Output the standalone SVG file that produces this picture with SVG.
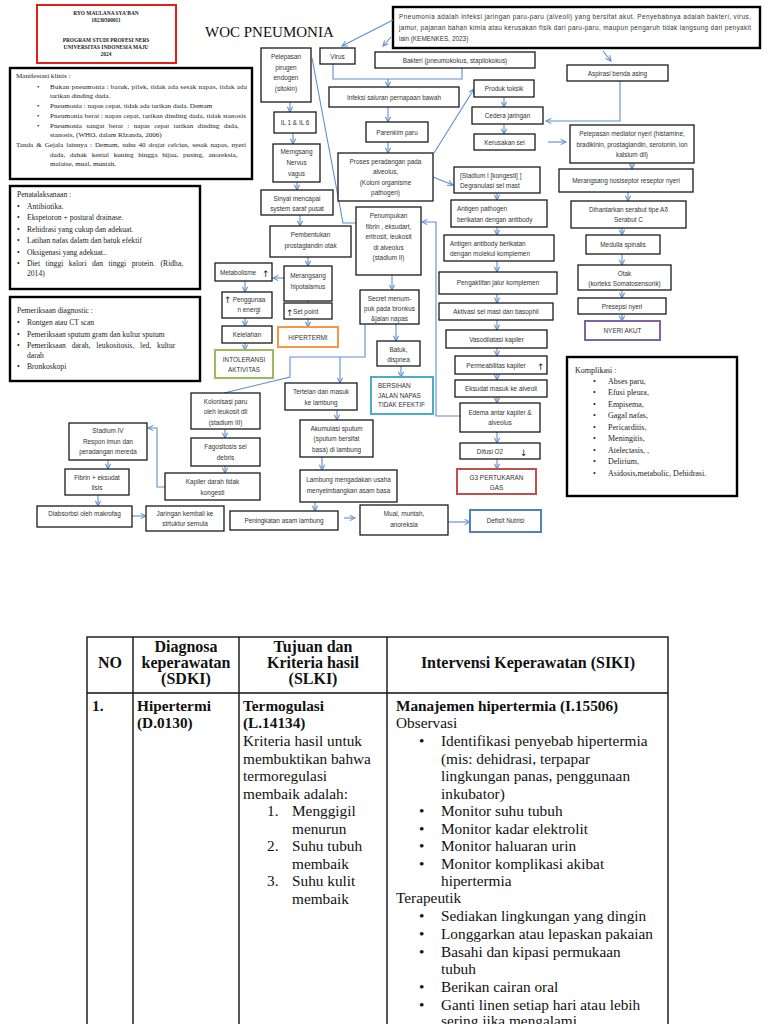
<svg xmlns="http://www.w3.org/2000/svg" width="768" height="1024" viewBox="0 0 768 1024">
<style>
.bx{fill:#fff;stroke:#1a1a1a;stroke-width:1.3}
.tk{fill:#fff;stroke:#000;stroke-width:2.4}
.f{font-family:"Liberation Sans",Arial,sans-serif;font-size:6.4px;fill:#333;text-anchor:middle}
.fl{font-family:"Liberation Sans",Arial,sans-serif;font-size:6.4px;fill:#333}
.up{font-family:"DejaVu Sans",sans-serif;font-size:9px;fill:#222}
.s7{font-family:"Liberation Serif","Times New Roman",serif;font-size:7.1px;fill:#222}
.s8{font-family:"Liberation Serif","Times New Roman",serif;font-size:7.6px;fill:#222}
.tb{font-family:"Liberation Serif","Times New Roman",serif;font-size:15.3px;fill:#111}
.th{font-family:"Liberation Serif","Times New Roman",serif;font-size:16px;font-weight:bold;fill:#111;text-anchor:middle}
.b{font-weight:bold}
.cn{fill:none;stroke:#5b8fd0;stroke-width:1.1}
.ar{marker-end:url(#ah)}
</style>
<defs>
<marker id="ah" viewBox="0 0 8 8" refX="7" refY="4" markerWidth="7" markerHeight="7" markerUnits="userSpaceOnUse" orient="auto">
<path d="M1,1 L7,4 L1,7" fill="none" stroke="#5b8fd0" stroke-width="1.2"/>
</marker>
</defs>
<rect width="768" height="1024" fill="#fff"/>

<g id="header">
<rect x="37" y="5" width="139" height="58" fill="#fff" stroke="#e0201f" stroke-width="2"/>
<g font-family="Liberation Serif, Times New Roman, serif" font-size="5.4" font-weight="bold" fill="#222" text-anchor="middle">
<text x="106" y="15">RYO MAULANA SYA'BAN</text>
<text x="106" y="22">18230500011</text>
<text x="106" y="42">PROGRAM STUDI PROFESI NERS</text>
<text x="106" y="49">UNIVERSITAS INDONESIA MAJU</text>
<text x="106" y="56">2024</text>
</g>
</g>
<text id="title" x="205" y="37" font-family="Liberation Serif, Times New Roman, serif" font-size="15" fill="#111">WOC PNEUMONIA</text>

<g id="definisi">
<rect class="tk" x="393" y="7" width="367" height="41"/>
<text class="fl" x="399" y="19" textLength="352">Pneumonia adalah infeksi jaringan paru-paru (alveoli) yang bersifat akut. Penyebabnya adalah bakteri, virus,</text>
<text class="fl" x="399" y="30" textLength="352">jamur, pajanan bahan kimia atau kerusakan fisik dari paru-paru, maupun pengaruh tidak langsung dari penyakit</text>
<text class="fl" x="399" y="41">lain (KEMENKES, 2023)</text>
</g>

<g id="manifestasi">
<rect class="tk" x="10" y="68" width="242" height="111"/>
<text class="s7" x="16" y="78">Manifestasi klinis :</text>
<text class="s7" x="37" y="89">•</text><text class="s7" x="50" y="89" textLength="197">Bukan pneumonia : batuk, pilek, tidak ada sesak napas, tidak ada</text>
<text class="s7" x="50" y="98">tarikan dinding dada.</text>
<text class="s7" x="37" y="108">•</text><text class="s7" x="50" y="108">Pneumonia : napas cepat, tidak ada tarikan dada. Demam</text>
<text class="s7" x="37" y="118">•</text><text class="s7" x="50" y="118" textLength="196">Pneumonia berat : napas cepat, tarikan dinding dada, tidak stanosis</text>
<text class="s7" x="37" y="128">•</text><text class="s7" x="50" y="128" word-spacing="2.6">Pneumonia sangat berat : napas cepat tarikan dinding dada,</text>
<text class="s7" x="50" y="137">stanosis, (WHO, dalam RIzanda, 2006)</text>
<text class="s7" x="16" y="147" word-spacing="1.2">Tanda &amp; Gejala lainnya : Demam, suhu 40 drajat celcius, sesak napas, nyeri</text>
<text class="s7" x="50" y="157" word-spacing="3">dada, dahak kental kuning hingga hijau, pusing, anoreksia,</text>
<text class="s7" x="50" y="166">malaise, mual, muntah.</text>
</g>

<g id="penatalaksanaan">
<rect class="tk" x="10" y="186" width="190" height="103"/>
<text class="s8" x="17" y="197">Penatalaksanaan :</text>
<text class="s8" x="17" y="209">•</text><text class="s8" x="27" y="209">Antibiotika.</text>
<text class="s8" x="17" y="220">•</text><text class="s8" x="27" y="220">Ekspetoron + postural drainase.</text>
<text class="s8" x="17" y="232">•</text><text class="s8" x="27" y="232">Rehidrasi yang cukup dan adekuat.</text>
<text class="s8" x="17" y="243">•</text><text class="s8" x="27" y="243">Latihan nafas dalam dan batuk efektif</text>
<text class="s8" x="17" y="255">•</text><text class="s8" x="27" y="255">Oksigenasi yang adekuat..</text>
<text class="s8" x="17" y="266">•</text><text class="s8" x="27" y="266" word-spacing="3.6">Diet tinggi kalori dan tinggi protein. (Ridha,</text>
<text class="s8" x="27" y="276">2014)</text>
</g>

<g id="pemeriksaan">
<rect class="tk" x="10" y="297" width="190" height="84"/>
<text class="s8" x="17" y="313">Pemeriksaan diagnostic :</text>
<text class="s8" x="17" y="325">•</text><text class="s8" x="27" y="325">Rontgen atau CT scan</text>
<text class="s8" x="17" y="337">•</text><text class="s8" x="27" y="337">Pemeriksaan sputum gram dan kultur sputum</text>
<text class="s8" x="17" y="348">•</text><text class="s8" x="27" y="348" word-spacing="4">Pemeriksaan darah,  leukositosis, led, kultur</text>
<text class="s8" x="27" y="358">darah</text>
<text class="s8" x="17" y="369">•</text><text class="s8" x="27" y="369">Bronkoskopi</text>
</g>

<g id="komplikasi">
<rect class="tk" x="567" y="357" width="170" height="139"/>
<g font-family="Liberation Serif, Times New Roman, serif" font-size="8" fill="#222">
<text x="575" y="373">Komplikasi  :</text>
<text x="593" y="384">•</text><text x="608" y="384">Abses paru,</text>
<text x="593" y="395">•</text><text x="608" y="395">Efusi pleura,</text>
<text x="593" y="407">•</text><text x="608" y="407">Empisema,</text>
<text x="593" y="418">•</text><text x="608" y="418">Gagal nafas,</text>
<text x="593" y="430">•</text><text x="608" y="430">Pericarditis,</text>
<text x="593" y="441">•</text><text x="608" y="441">Meningitis,</text>
<text x="593" y="453">•</text><text x="608" y="453">Atelectasis, ,</text>
<text x="593" y="464">•</text><text x="608" y="464">Delirium,</text>
<text x="593" y="476">•</text><text x="608" y="476">Asidosis,metabolic, Dehidrasi.</text>
</g>
</g>

<g id="connectors">
<path class="cn ar" d="M393,20 L342,46"/>
<path class="cn ar" d="M391,37 L383,46"/>
<path class="cn ar" d="M603,51 L611,61"/>
<path class="cn" d="M333,64 V79 H462 V68"/>
<path class="cn ar" d="M388,79 V87"/>
<path class="cn ar" d="M388,107 V122"/>
<path class="cn ar" d="M388,142 V153"/>
<path class="cn ar" d="M434,153 L474,89"/>
<path class="cn ar" d="M504,97 V107"/>
<path class="cn ar" d="M504,124 V134"/>
<path class="cn ar" d="M548,142 H566"/>
<path class="cn ar" d="M620,81 V121 H546"/>
<path class="cn ar" d="M632,163 V169"/>
<path class="cn ar" d="M628,192 V201"/>
<path class="cn ar" d="M622,228 V235"/>
<path class="cn ar" d="M622,254 V265"/>
<path class="cn ar" d="M622,290 V298"/>
<path class="cn ar" d="M622,314 V321"/>
<path class="cn ar" d="M433,177 L453,185"/>
<path class="cn ar" d="M497,193 V200"/>
<path class="cn ar" d="M497,227 V235"/>
<path class="cn ar" d="M497,261 V272"/>
<path class="cn ar" d="M497,294 V303"/>
<path class="cn ar" d="M497,320 V330"/>
<path class="cn ar" d="M497,348 V356"/>
<path class="cn ar" d="M497,374 V380"/>
<path class="cn ar" d="M497,397 V403"/>
<path class="cn ar" d="M497,432 V443"/>
<path class="cn ar" d="M497,459 V469"/>
<path class="cn ar" d="M460,416 H436 V222 H422"/>
<path class="cn" d="M312,58 L343,223 H356"/>
<path class="cn ar" d="M290,102 V112"/>
<path class="cn ar" d="M293,133 V144"/>
<path class="cn ar" d="M297,182 V190"/>
<path class="cn ar" d="M300,215 V226"/>
<path class="cn ar" d="M308,257 V266"/>
<path class="cn ar" d="M284,278 H273"/>
<path class="cn ar" d="M308,295 V302"/>
<path class="cn ar" d="M308,319 V327"/>
<path class="cn ar" d="M245,281 V292"/>
<path class="cn ar" d="M245,318 V326"/>
<path class="cn ar" d="M245,343 V350"/>
<path class="cn ar" d="M392,275 V290"/>
<path class="cn ar" d="M396,324 V341"/>
<path class="cn ar" d="M401,366 V377"/>
<path class="cn" d="M365,324 V357 H290 V377 L224,393"/>
<path class="cn ar" d="M340,357 V383"/>
<path class="cn ar" d="M225,429 V438"/>
<path class="cn ar" d="M225,466 V473"/>
<path class="cn ar" d="M165,487 H157 V428 H148"/>
<path class="cn ar" d="M108,460 V469"/>
<path class="cn ar" d="M98,495 V506"/>
<path class="cn ar" d="M132,516 H146"/>
<path class="cn ar" d="M337,410 V420"/>
<path class="cn ar" d="M322,457 V470"/>
<path class="cn ar" d="M315,502 V511"/>
<path class="cn ar" d="M344,518 H355"/>
<path class="cn ar" d="M448,522 H470"/>
</g>

<g id="n_virus"><rect class="bx" x="320" y="48" width="35" height="16"/><text class="f" x="337.5" y="58.5">Virus</text></g>
<g id="n_bakteri"><rect class="bx" x="375" y="52" width="160" height="16"/><text class="f" x="455" y="62.5">Bakteri (pneumokokus, stapilokokus)</text></g>
<g id="n_aspirasi"><rect class="bx" x="567" y="65" width="101" height="16"/><text class="f" x="617.5" y="75.5">Aspirasi benda asing</text></g>
<g id="n_pirugen"><rect class="bx" x="261" y="48" width="50" height="54"/><text class="f" x="286" y="59">Pelepasan</text><text class="f" x="286" y="69.5">pirugen</text><text class="f" x="286" y="80">endogen</text><text class="f" x="286" y="90.5">(sitokin)</text></g>
<g id="n_il"><rect class="bx" x="274" y="112" width="42" height="21"/><text class="f" x="295" y="124.5">IL 1 &amp;  IL 6</text></g>
<g id="n_vagus"><rect class="bx" x="273" y="144" width="47" height="38"/><text class="f" x="296.5" y="154">Merngsang</text><text class="f" x="296.5" y="165">Nervus</text><text class="f" x="296.5" y="176">vagus</text></g>
<g id="n_sinyal"><rect class="bx" x="261" y="190" width="72" height="25"/><text class="f" x="297" y="200.5">Sinyal mencapai</text><text class="f" x="297" y="210.5">system saraf pusat</text></g>
<g id="n_prosta"><rect class="bx" x="270" y="226" width="81" height="31"/><text class="f" x="310.5" y="237">Pembentukan</text><text class="f" x="310.5" y="247.5">prostaglandin otak</text></g>
<g id="n_hipo"><rect class="bx" x="284" y="266" width="48" height="35"/><text class="f" x="308" y="278">Merangsang</text><text class="f" x="308" y="289">hipotalamus</text></g>
<g id="n_setpoint"><rect class="bx" x="284" y="303" width="48" height="16"/><text class="up" x="286" y="316">↑</text><text class="fl" x="293" y="313.5">Set point</text></g>
<g id="n_hiper"><rect x="278" y="327" width="60" height="20" fill="#fff" stroke="#f79646" stroke-width="2"/><text class="f" x="308" y="339.5">HIPERTERMI</text></g>
<g id="n_metab"><rect class="bx" x="215" y="263" width="57" height="18"/><text class="f" x="238" y="274.5">Metabolisme</text><text class="up" x="262" y="277">↑</text></g>
<g id="n_energi"><rect class="bx" x="222" y="292" width="50" height="26"/><text class="up" x="224" y="303">↑</text><text class="f" x="249" y="301.5">Penggunaa</text><text class="f" x="249" y="311.5">n energi</text></g>
<g id="n_lelah"><rect class="bx" x="222" y="326" width="50" height="17"/><text class="f" x="247" y="336.5">Kelelahan</text></g>
<g id="n_intol"><rect x="215" y="350" width="58" height="28" fill="#fff" stroke="#9bbb59" stroke-width="2"/><text class="f" x="244" y="361.5">INTOLERANSI</text><text class="f" x="244" y="371.5">AKTIVITAS</text></g>
<g id="n_infeksi"><rect class="bx" x="329" y="87" width="130" height="20"/><text class="f" x="394" y="99.5">Infeksi saluran pernapaan bawah</text></g>
<g id="n_parenkim"><rect class="bx" x="366" y="122" width="62" height="20"/><text class="f" x="397" y="134.5">Parenkim paru</text></g>
<g id="n_proses"><rect class="bx" x="338" y="153" width="95" height="48"/><text class="f" x="385.5" y="163.5">Proses peradangan pada</text><text class="f" x="385.5" y="174">alveolus,</text><text class="f" x="385.5" y="184.5">(Koloni organisme</text><text class="f" x="385.5" y="195">pathogen)</text></g>
<g id="n_fibrin"><rect class="bx" x="356" y="207" width="65" height="68"/><text class="f" x="388.5" y="218">Penumpukan</text><text class="f" x="388.5" y="228.5">fibrin , eksudart,</text><text class="f" x="388.5" y="239">eritrosit, leukosit</text><text class="f" x="388.5" y="249.5">di alveolus</text><text class="f" x="388.5" y="260">(stadium II)</text></g>
<g id="n_secret"><rect class="bx" x="360" y="290" width="59" height="34"/><text class="f" x="389.5" y="300.5">Secret menum-</text><text class="f" x="389.5" y="310.5">puk pada bronkus</text><text class="f" x="389.5" y="320.5">&amp;jalan napas</text></g>
<g id="n_batuk"><rect class="bx" x="377" y="341" width="43" height="25"/><text class="f" x="398.5" y="351.5">Batuk,</text><text class="f" x="398.5" y="361.5">dispnea</text></g>
<g id="n_bersihan"><rect x="371" y="377" width="62" height="37" fill="#fff" stroke="#4bacc6" stroke-width="2"/><text class="fl" x="378" y="388">BERSIHAN</text><text class="fl" x="378" y="397.5">JALAN NAPAS</text><text class="fl" x="378" y="407">TIDAK EFEKTIF</text></g>
<g id="n_tertelan"><rect class="bx" x="285" y="383" width="72" height="27"/><text class="f" x="321" y="394">Tertelan dan masuk</text><text class="f" x="321" y="404.5">ke lambung</text></g>
<g id="n_akum"><rect class="bx" x="300" y="420" width="73" height="37"/><text class="f" x="336.5" y="430.5">Akumulasi sputum</text><text class="f" x="336.5" y="441">(sputum bersifat</text><text class="f" x="336.5" y="451.5">basa) di lambung</text></g>
<g id="n_lambung"><rect class="bx" x="300" y="470" width="97" height="32"/><text class="f" x="348.5" y="482">Lambung mengadakan usaha</text><text class="f" x="348.5" y="493">menyeimbangkan asam basa</text></g>
<g id="n_asam"><rect class="bx" x="230" y="511" width="108" height="19"/><text class="f" x="284" y="522.5">Peningkatan asam lambung</text></g>
<g id="n_mual"><rect class="bx" x="360" y="505" width="88" height="30"/><text class="f" x="404" y="516">Mual, muntah,</text><text class="f" x="404" y="527">anoreksia</text></g>
<g id="n_defisit"><rect x="470" y="510" width="71" height="22" fill="#fff" stroke="#4f81bd" stroke-width="2"/><text class="f" x="505.5" y="523">Defisit Nutrisi</text></g>
<g id="n_kolon"><rect class="bx" x="191" y="393" width="69" height="36"/><text class="f" x="225.5" y="403.5">Kolonisasi paru</text><text class="f" x="225.5" y="414">oleh leukosit dll</text><text class="f" x="225.5" y="424.5">(stadium III)</text></g>
<g id="n_fago"><rect class="bx" x="191" y="438" width="69" height="28"/><text class="f" x="225.5" y="449">Fagositosis sel</text><text class="f" x="225.5" y="459.5">debris</text></g>
<g id="n_kapiler"><rect class="bx" x="165" y="473" width="95" height="27"/><text class="f" x="212.5" y="484">Kapiler darah tidak</text><text class="f" x="212.5" y="494.5">kongesti</text></g>
<g id="n_st4"><rect class="bx" x="69" y="423" width="78" height="37"/><text class="f" x="108" y="433">Stadium IV</text><text class="f" x="108" y="443.5">Respon imun dan</text><text class="f" x="108" y="454">peradangan mereda</text></g>
<g id="n_lisis"><rect class="bx" x="65" y="469" width="64" height="26"/><text class="f" x="97" y="479.5">Fibrin + eksudat</text><text class="f" x="97" y="490">lisis</text></g>
<g id="n_makro"><rect class="bx" x="37" y="506" width="95" height="21"/><text class="f" x="84.5" y="515.5">Diabsorbsi oleh makrofag</text></g>
<g id="n_jaringan"><rect class="bx" x="146" y="506" width="78" height="25"/><text class="f" x="185" y="515.5">Jaringan kembali ke</text><text class="f" x="185" y="526">strtuktur semula</text></g>
<g id="n_produk"><rect class="bx" x="474" y="80" width="60" height="17"/><text class="f" x="504" y="90.5">Produk toksik</text></g>
<g id="n_cedera"><rect class="bx" x="472" y="107" width="71" height="17"/><text class="f" x="507.5" y="117.5">Cedera jaringan</text></g>
<g id="n_kerusakan"><rect class="bx" x="474" y="134" width="61" height="16"/><text class="f" x="504.5" y="144.5">Kerusakan sel</text></g>
<g id="n_st1"><rect class="bx" x="454" y="167" width="86" height="26"/><text class="fl" x="460" y="177.5">[Stadium I  [kongesti] ]</text><text class="fl" x="460" y="188">Degranulasi sel mast</text></g>
<g id="n_antigen1"><rect class="bx" x="451" y="200" width="96" height="27"/><text class="fl" x="457" y="211">Antigen pathogen</text><text class="fl" x="457" y="221.5">berikatan dengan antibody</text></g>
<g id="n_antigen2"><rect class="bx" x="444" y="235" width="110" height="26"/><text class="fl" x="450" y="245.5">Antigen antibody  berikatan</text><text class="fl" x="450" y="256">dengan molekul komplemen</text></g>
<g id="n_jalur"><rect class="bx" x="439" y="272" width="118" height="22"/><text class="f" x="498" y="285">Pengaktifan jalur komplemen</text></g>
<g id="n_mast"><rect class="bx" x="439" y="303" width="114" height="17"/><text class="f" x="496" y="313.5">Aktivasi sel mast dan basophil</text></g>
<g id="n_vaso"><rect class="bx" x="446" y="330" width="101" height="18"/><text class="f" x="496.5" y="341.5">Vasodilatasi kapiler</text></g>
<g id="n_perm"><rect class="bx" x="455" y="356" width="92" height="18"/><text class="f" x="496" y="367.5">Permeabilitas kapiler</text><text class="up" x="537" y="370">↑</text></g>
<g id="n_eksudat"><rect class="bx" x="455" y="380" width="92" height="17"/><text class="f" x="501" y="390.5">Eksudat  masuk ke alveoli</text></g>
<g id="n_edema"><rect class="bx" x="460" y="403" width="80" height="29"/><text class="f" x="500" y="414.5">Edema antar kapiler &amp;</text><text class="f" x="500" y="425">alveolus</text></g>
<g id="n_difusi"><rect class="bx" x="460" y="443" width="80" height="16"/><text class="f" x="490" y="453.5">Difusi  O2</text><text class="up" x="520" y="456">↓</text></g>
<g id="n_g3"><rect x="457" y="469" width="79" height="25" fill="#fff" stroke="#c0504d" stroke-width="2"/><text class="f" x="496.5" y="479.5">G3 PERTUKARAN</text><text class="f" x="496.5" y="490">GAS</text></g>
<g id="n_mediator"><rect class="bx" x="570" y="125" width="124" height="38"/><text class="f" x="632" y="136">Pelepasan mediator nyeri (histamine,</text><text class="f" x="632" y="146.5">bradikinin, prostaglandin, serotonin, ion</text><text class="f" x="632" y="157">kalsium dll)</text></g>
<g id="n_nosi"><rect class="bx" x="559" y="169" width="134" height="23"/><text class="f" x="626" y="182.5">Merangsang nosiseptor reseptor nyeri</text></g>
<g id="n_serabut"><rect class="bx" x="571" y="201" width="115" height="27"/><text class="f" x="628.5" y="211.5">Dihantarkan serabut tipe Aδ</text><text class="f" x="628.5" y="222">Serabut C</text></g>
<g id="n_medulla"><rect class="bx" x="586" y="235" width="74" height="19"/><text class="f" x="623" y="246.5">Medulla spinalis</text></g>
<g id="n_otak"><rect class="bx" x="578" y="265" width="93" height="25"/><text class="f" x="624.5" y="275.5">Otak</text><text class="f" x="624.5" y="286">(korteks Somatosensorik)</text></g>
<g id="n_presepsi"><rect class="bx" x="578" y="298" width="88" height="16"/><text class="f" x="622" y="308.5">Presepsi nyeri</text></g>
<g id="n_nyeri"><rect x="585" y="321" width="75" height="19" fill="#fff" stroke="#8064a2" stroke-width="2"/><text class="f" x="622.5" y="333">NYERI AKUT</text></g>

<g id="tabel">
<rect x="87" y="637" width="581" height="400" fill="none" stroke="#111" stroke-width="1.4"/>
<path d="M133,637 V1030 M239,637 V1030 M387,637 V1030 M87,693 H668" stroke="#111" stroke-width="1.4" fill="none"/>
<text class="th" x="110" y="668">NO</text>
<text class="th" x="186" y="652">Diagnosa</text>
<text class="th" x="186" y="668">keperawatan</text>
<text class="th" x="186" y="684">(SDKI)</text>
<text class="th" x="313" y="652">Tujuan dan</text>
<text class="th" x="313" y="668">Kriteria hasil</text>
<text class="th" x="313" y="684">(SLKI)</text>
<text class="th" x="528" y="668">Intervensi Keperawatan (SIKI)</text>
<text class="tb b" x="92" y="711">1.</text>
<text class="tb b" x="137" y="711">Hipertermi</text>
<text class="tb b" x="137" y="728">(D.0130)</text>
<text class="tb b" x="243" y="711">Termogulasi</text>
<text class="tb b" x="243" y="728">(L.14134)</text>
<text class="tb" x="243" y="746">Kriteria hasil untuk</text>
<text class="tb" x="243" y="764">membuktikan bahwa</text>
<text class="tb" x="243" y="781">termoregulasi</text>
<text class="tb" x="243" y="799">membaik adalah:</text>
<text class="tb" x="267" y="816">1.</text><text class="tb" x="292" y="816">Menggigil</text>
<text class="tb" x="292" y="834">menurun</text>
<text class="tb" x="267" y="851">2.</text><text class="tb" x="292" y="851">Suhu tubuh</text>
<text class="tb" x="292" y="869">membaik</text>
<text class="tb" x="267" y="886">3.</text><text class="tb" x="292" y="886">Suhu kulit</text>
<text class="tb" x="292" y="904">membaik</text>
<text class="tb b" x="396" y="711">Manajemen hipertermia (I.15506)</text>
<text class="tb" x="396" y="728">Observasi</text>
<text class="tb" x="419" y="746">•</text><text class="tb" x="441" y="746">Identifikasi penyebab hipertermia</text>
<text class="tb" x="441" y="764">(mis: dehidrasi, terpapar</text>
<text class="tb" x="441" y="781">lingkungan panas, penggunaan</text>
<text class="tb" x="441" y="799">inkubator)</text>
<text class="tb" x="419" y="816">•</text><text class="tb" x="441" y="816">Monitor suhu tubuh</text>
<text class="tb" x="419" y="834">•</text><text class="tb" x="441" y="834">Monitor kadar elektrolit</text>
<text class="tb" x="419" y="851">•</text><text class="tb" x="441" y="851">Monitor haluaran urin</text>
<text class="tb" x="419" y="869">•</text><text class="tb" x="441" y="869">Monitor komplikasi akibat</text>
<text class="tb" x="441" y="886">hipertermia</text>
<text class="tb" x="396" y="903">Terapeutik</text>
<text class="tb" x="419" y="921">•</text><text class="tb" x="441" y="921">Sediakan lingkungan yang dingin</text>
<text class="tb" x="419" y="939">•</text><text class="tb" x="441" y="939">Longgarkan atau lepaskan pakaian</text>
<text class="tb" x="419" y="957">•</text><text class="tb" x="441" y="957">Basahi dan kipasi permukaan</text>
<text class="tb" x="441" y="974">tubuh</text>
<text class="tb" x="419" y="992">•</text><text class="tb" x="441" y="992">Berikan cairan oral</text>
<text class="tb" x="419" y="1010">•</text><text class="tb" x="441" y="1010">Ganti linen setiap hari atau lebih</text>
<text class="tb" x="441" y="1026">sering jika mengalami</text>
</g>
</svg>
